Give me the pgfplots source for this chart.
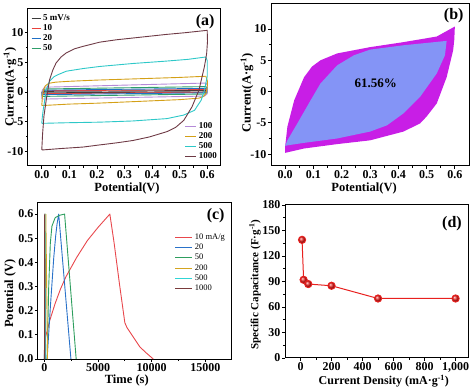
\documentclass[border=0pt]{standalone}
\usepackage{fontspec}
\setmainfont{Liberation Serif}
\usepackage{pgfplots}
\pgfplotsset{compat=1.18}

\definecolor{c5}{HTML}{3A3A3A}
\definecolor{c10}{HTML}{E8413C}
\definecolor{c20}{HTML}{1F6FC5}
\definecolor{c50}{HTML}{2E9E6A}
\definecolor{c100}{HTML}{B58AD8}
\definecolor{c200}{HTML}{D4A017}
\definecolor{c500}{HTML}{2EC8C8}
\definecolor{c1000}{HTML}{6E3A45}
\definecolor{bmag}{HTML}{C81EE6}
\definecolor{bblue}{HTML}{8494F6}
\definecolor{dred}{HTML}{E8201E}
\definecolor{g10}{HTML}{E8474C}
\definecolor{g20}{HTML}{2A72C9}
\definecolor{g50}{HTML}{2E9E5E}
\definecolor{g200}{HTML}{D4A520}
\definecolor{g500}{HTML}{30D5D5}
\definecolor{g1000}{HTML}{7A3B3B}

\pgfplotsset{
  panel/.style={
    scale only axis,
    axis line style={line width=1pt},
    tick align=outside,
    xtick pos=bottom, ytick pos=left,
    tick label style={font=\fontsize{12}{13}\selectfont\bfseries, inner sep=1.5pt},
    /pgf/number format/assume math mode=true,
    label style={font=\fontsize{12.5}{14}\selectfont\bfseries, inner sep=1pt},
    major tick length=3pt, minor tick length=1.8pt,
    every tick/.style={black, line width=0.8pt},
  },
  cv/.style={line width=0.9pt, line join=round},
}

\begin{document}
\begin{tikzpicture}
\useasboundingbox (0pt,0pt) rectangle (474pt,-387pt);

%% (a)
\begin{axis}[panel, at={(28pt,-166pt)}, anchor=south west,
  width=193pt, height=157pt,
  xmin=-0.05, xmax=0.65, ymin=-12.5, ymax=14,
  xtick={0,0.1,0.2,0.3,0.4,0.5,0.6},
  xticklabels={0.0,0.1,0.2,0.3,0.4,0.5,0.6},
  ytick={-10,-5,0,5,10},
  minor x tick num=1, minor y tick num=1,
  xlabel={Potential(V)}, ylabel={Current(A·g\textsuperscript{-1})},
  xlabel style={at={(axis description cs:0.513,-0.145)}, anchor=center},
  ylabel style={at={(axis description cs:-0.093,0.506)}, anchor=center},
  legend style={at={(0.01,0.985)}, anchor=north west, draw=none, fill=none,
    font=\fontsize{9}{10}\selectfont\bfseries, row sep=-1.5pt, inner sep=1pt},
  legend cell align=left,
  legend image code/.code={\draw[#1] (0pt,0pt) -- (9pt,0pt);},
]
\addplot[cv, c5] coordinates {(0,-0.15)(0.002,0.0)(0.01,0.1)(0.3,0.17)(0.595,0.25)(0.6,0.05)(0.59,0)(0.3,-0.07)(0.01,-0.15)(0,-0.15)};
\addlegendentry{5 mV/s}
\addplot[cv, c10] coordinates {(0,-0.3)(0.002,0.05)(0.01,0.2)(0.3,0.3)(0.595,0.4)(0.6,0.3)(0.6,0)(0.59,-0.05)(0.3,-0.18)(0.01,-0.3)(0,-0.3)};
\addlegendentry{10}
\addplot[cv, c20] coordinates {(0,-0.45)(0.002,0.1)(0.01,0.3)(0.3,0.45)(0.595,0.6)(0.6,0.45)(0.6,-0.05)(0.59,-0.15)(0.3,-0.3)(0.01,-0.45)(0,-0.45)};
\addlegendentry{20}
\addplot[cv, c50] coordinates {(0,-0.75)(0.002,0.2)(0.01,0.5)(0.3,0.7)(0.595,0.9)(0.6,0.7)(0.6,-0.15)(0.59,-0.35)(0.3,-0.55)(0.01,-0.75)(0,-0.75)};
\addlegendentry{50}
\addplot[cv, c100, forget plot] coordinates {(0,-1.2)(0.002,0.3)(0.01,0.8)(0.3,1.15)(0.595,1.5)(0.6,1.2)(0.6,-0.3)(0.59,-0.7)(0.3,-0.95)(0.01,-1.2)(0,-1.2)};
\addplot[cv, c200, forget plot] coordinates {(0,-2.3)(0.002,-1.0)(0.006,0.3)(0.012,1.0)(0.025,1.45)(0.05,1.65)(0.1,1.8)(0.2,2.0)(0.3,2.15)(0.4,2.3)(0.5,2.45)(0.595,2.65)(0.601,1.8)(0.6,0.7)(0.595,-0.3)(0.585,-0.8)(0.57,-1.05)(0.5,-1.3)(0.4,-1.5)(0.3,-1.7)(0.2,-1.9)(0.1,-2.05)(0.02,-2.25)(0,-2.3)};
\addplot[cv, c500, forget plot] coordinates {(0,-5.3)(0.002,-4.2)(0.005,-3.1)(0.012,-1)(0.016,0.3)(0.028,1.8)(0.045,2.6)(0.058,2.9)(0.089,3.5)(0.15,3.95)(0.21,4.3)(0.33,4.8)(0.45,5.2)(0.53,5.5)(0.595,5.9)(0.6,5.3)(0.6,2.6)(0.59,0.3)(0.578,-1.4)(0.554,-3.1)(0.515,-3.9)(0.454,-4.5)(0.33,-4.9)(0.21,-5.1)(0.09,-5.2)(0,-5.3)};
\addplot[cv, c1000, forget plot] coordinates {(0.000,-9.8)(0.003,-7)(0.008,-4)(0.016,-1.4)(0.028,2.0)(0.04,3.7)(0.052,4.9)(0.07,5.9)(0.089,6.6)(0.12,7.3)(0.15,7.7)(0.21,8.4)(0.27,8.8)(0.33,9.1)(0.39,9.4)(0.45,9.7)(0.52,10.0)(0.6,10.4)(0.601,8.5)(0.598,6.5)(0.59,4.3)(0.57,0.3)(0.545,-2.5)(0.515,-4.8)(0.485,-6.0)(0.454,-6.7)(0.39,-7.6)(0.33,-8.2)(0.27,-8.6)(0.2,-9.0)(0.15,-9.3)(0.07,-9.55)(0,-9.8)};
\node[anchor=north east, font=\fontsize{16}{18}\selectfont\bfseries] at (rel axis cs:0.985,0.985) {(a)};
\end{axis}
\begin{axis}[scale only axis, at={(28pt,-166pt)}, anchor=south west,
  width=193pt, height=157pt, hide axis,
  xmin=0, xmax=1, ymin=0, ymax=1,
  legend style={at={(0.995,0.015)}, anchor=south east, draw=none, fill=none,
    font=\fontsize{9}{10}\selectfont\bfseries, row sep=-1.5pt, inner sep=1pt},
  legend cell align=left,
  legend image code/.code={\draw[#1] (0pt,0pt) -- (11pt,0pt);},
]
\addlegendimage{c100, line width=0.9pt}\addlegendentry{100}
\addlegendimage{c200, line width=0.9pt}\addlegendentry{200}
\addlegendimage{c500, line width=0.9pt}\addlegendentry{500}
\addlegendimage{c1000, line width=0.9pt}\addlegendentry{1000}
\end{axis}

%% (b)
\begin{axis}[panel, at={(271pt,-166pt)}, anchor=south west,
  width=198pt, height=162pt,
  xmin=-0.05, xmax=0.65, ymin=-11.9, ymax=14,
  xtick={0,0.1,0.2,0.3,0.4,0.5,0.6},
  xticklabels={0.0,0.1,0.2,0.3,0.4,0.5,0.6},
  ytick={-10,-5,0,5,10},
  minor x tick num=1, minor y tick num=1,
  xlabel={Potential(V)}, ylabel={Current(A·g\textsuperscript{-1})},
  xlabel style={at={(axis description cs:0.47,-0.14)}, anchor=center},
  ylabel style={at={(axis description cs:-0.121,0.45)}, anchor=center},
]
\addplot[fill=bmag, draw=none] coordinates {(0,-9.8)(0,-8.8)(0.008,-5.6)(0.032,-1.4)(0.067,2.3)(0.095,4.0)(0.125,5.0)(0.184,6.1)(0.3,7.1)(0.418,7.9)(0.536,8.8)(0.6,10.4)(0.598,8.3)(0.594,6.6)(0.571,2.3)(0.536,-1.9)(0.5,-4.0)(0.477,-5.1)(0.418,-6.4)(0.3,-7.8)(0.184,-8.4)(0.067,-9.1)(0,-9.8)};
\addplot[fill=bblue, draw=none] coordinates {(0,-8.7)(0.008,-7.8)(0.043,-5.1)(0.09,-1.4)(0.125,1.3)(0.184,4.2)(0.243,5.8)(0.3,6.7)(0.418,7.4)(0.571,8.1)(0.565,5.8)(0.536,2.9)(0.477,-0.85)(0.418,-3.5)(0.36,-5.4)(0.3,-6.4)(0.184,-7.5)(0.067,-8.2)(0.008,-8.6)(0,-8.7)};
\node[font=\fontsize{13}{15}\selectfont\bfseries] at (axis cs:0.32,1.4) {61.56\%};
\node[anchor=north east, font=\fontsize{16}{18}\selectfont\bfseries] at (rel axis cs:0.99,0.995) {(b)};
\end{axis}

%% (c)
\begin{axis}[panel, at={(38pt,-359pt)}, anchor=south west,
  width=193pt, height=157pt,
  xmin=-600, xmax=17400, ymin=0, ymax=0.65,
  xtick={0,5000,10000,15000}, scaled ticks=false,
  xticklabel style={/pgf/number format/1000 sep={}},
  ytick={0,0.1,0.2,0.3,0.4,0.5,0.6},
  yticklabels={0.0,0.1,0.2,0.3,0.4,0.5,0.6},
  minor x tick num=1,
  xlabel={Time (s)}, ylabel={Potential (V)},
  xlabel style={at={(axis description cs:0.46,-0.14)}, anchor=center},
  ylabel style={at={(axis description cs:-0.145,0.417)}, anchor=center},
  legend style={at={(0.985,0.82)}, anchor=north east, draw=none, fill=none,
    font=\fontsize{8.5}{9.5}\selectfont, row sep=-0.8pt, inner sep=1pt},
  legend cell align=left,
  legend image code/.code={\draw[#1] (0pt,0pt) -- (17pt,0pt);},
]
\addplot[cv, g10] coordinates {(0,0)(50,0.07)(100,0.09)(500,0.16)(1000,0.23)(1500,0.29)(2000,0.34)(3000,0.42)(4000,0.49)(5000,0.545)(6100,0.6)(6500,0.48)(7000,0.31)(7500,0.15)(7700,0.13)(8300,0.09)(8900,0.05)(9500,0.025)(10150,0)};
\addlegendentry{10 mA/g}
\addplot[cv, g20] coordinates {(250,0)(560,0.22)(870,0.42)(1050,0.51)(1180,0.56)(1330,0.6)(2470,0)};
\addlegendentry{20}
\addplot[cv, g50] coordinates {(250,0)(400,0.3)(550,0.48)(700,0.55)(1000,0.585)(1400,0.595)(1880,0.6)(2960,0)};
\addlegendentry{50}
\addplot[cv, g200] coordinates {(30,0)(130,0.6)(290,0)};
\addlegendentry{200}
\addplot[cv, g500] coordinates {(0,0)(50,0.6)(110,0)};
\addlegendentry{500}
\addplot[cv, g1000] coordinates {(0,0)(25,0.6)(55,0)};
\addlegendentry{1000}
\node[anchor=north east, font=\fontsize{16}{18}\selectfont\bfseries] at (rel axis cs:0.985,0.98) {(c)};
\end{axis}

%% (d)
\begin{axis}[panel, at={(285pt,-358pt)}, anchor=south west,
  width=183pt, height=153pt,
  xmin=-100, xmax=1080, ymin=0, ymax=180,
  xtick={0,200,400,600,800,1000},
  ytick={0,30,60,90,120,150,180},
  minor x tick num=1, minor y tick num=1,
  xlabel={Current Density (mA·g\textsuperscript{-1})},
  ylabel={Specific Capacitance (F·g\textsuperscript{-1})},
  ylabel style={font=\fontsize{11}{12}\selectfont\bfseries, at={(axis description cs:-0.164,0.48)}, anchor=center},
  xlabel style={font=\fontsize{12}{13}\selectfont\bfseries, at={(axis description cs:0.54,-0.15)}, anchor=center},
]
\addplot[dred, line width=1pt, mark=ball, mark size=3.6pt, mark options={ball color=dred}] coordinates {(10,139)(20,92)(50,87)(200,85)(500,70)(1000,70)};
\node[anchor=north east, font=\fontsize{16}{18}\selectfont\bfseries] at (rel axis cs:0.985,0.95) {(d)};
\end{axis}
\end{tikzpicture}
\end{document}
